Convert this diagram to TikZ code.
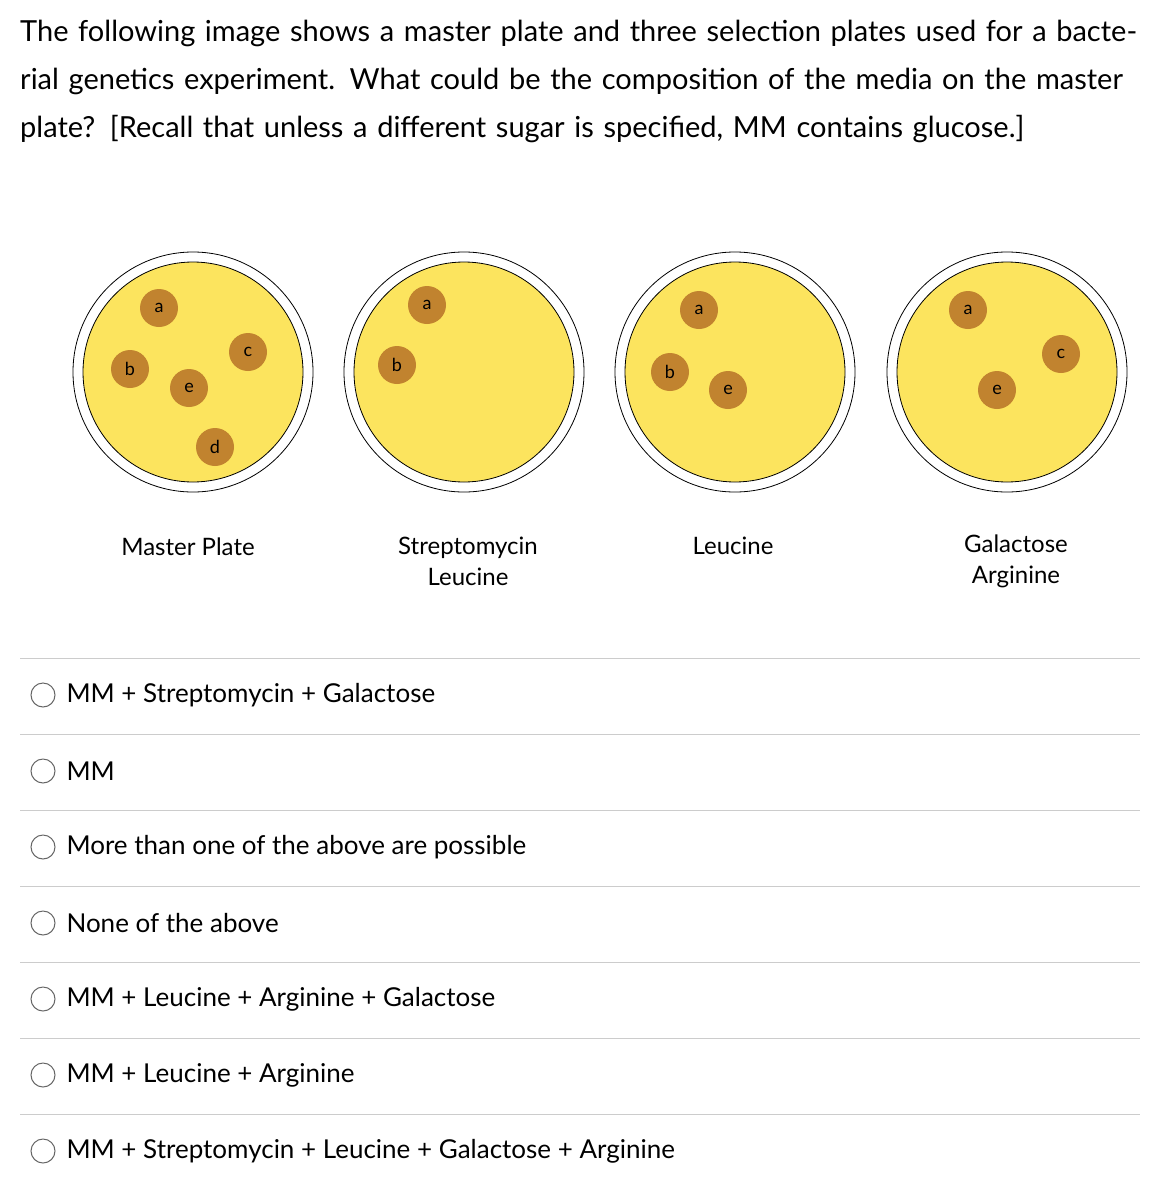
\documentclass[tikz,border=0pt]{standalone}
\usepackage{fontspec}
\setmainfont{Lato}
\definecolor{agar}{HTML}{FCE45E}
\definecolor{col}{HTML}{C1832F}
\begin{document}
\begin{tikzpicture}[x=1pt,y=-1pt,
  colony/.style={circle,fill=col,minimum size=38pt,inner sep=0pt,font=\fontsize{18}{18}\selectfont},
  lbl/.style={font=\fontsize{24}{31}\selectfont,align=center},
  opt/.style={font=\fontsize{26}{26}\selectfont,anchor=west},
  sep/.style={draw=black!20,line width=1pt}]
\useasboundingbox (0,0) rectangle (1160,1194);
\node[anchor=north west,align=left,text width=1130pt,font=\fontsize{29}{48}\selectfont,inner sep=0pt] (q) at (20,20)
{The following image shows a master plate and three selection plates used for a bacterial genetics experiment. What could be the composition of the media on the master plate? [Recall that unless a different sugar is specified, MM contains glucose.]};
\foreach \cx/\n in {193/p1,464/p2,735/p3,1007/p4}{
  \draw[line width=0.8pt,fill=white] (\cx,372) circle (120);
  \draw[line width=0.8pt,fill=agar] (\cx,372) circle (110);
}
\node[colony] (a1) at (159,308) {a};
\node[colony] (b1) at (130,369) {b};
\node[colony] (e1) at (189,388) {e};
\node[colony] (c1) at (248,352) {c};
\node[colony] (d1) at (215,447) {d};
\node[colony] (a2) at (427,305) {a};
\node[colony] (b2) at (397,365) {b};
\node[colony] (a3) at (699,310) {a};
\node[colony] (b3) at (670,372) {b};
\node[colony] (e3) at (728,390) {e};
\node[colony] (a4) at (968,310) {a};
\node[colony] (c4) at (1061,354) {c};
\node[colony] (e4) at (997,390) {e};
\node[lbl] (l1) at (188,547) {Master Plate};
\node[lbl] (l2) at (468,561) {Streptomycin\\Leucine};
\node[lbl] (l3) at (733,546) {Leucine};
\node[lbl] (l4) at (1016,561) {Galactose\\Arginine};
\foreach \y in {658,734,810,886,962,1038,1114} \draw[sep] (20,\y) -- (1140,\y);
\foreach \y/\t [count=\i] in {695/MM + Streptomycin + Galactose,771/MM,847/More than one of the above are possible,923/None of the above,999/MM + Leucine + Arginine + Galactose,1075/MM + Leucine + Arginine,1151/MM + Streptomycin + Leucine + Galactose + Arginine}{
  \draw[black!60,line width=1pt] (43,\y) circle (12);
  \node[opt] (o\i) at (63,\y) {\t};
}
\end{tikzpicture}
\end{document}
